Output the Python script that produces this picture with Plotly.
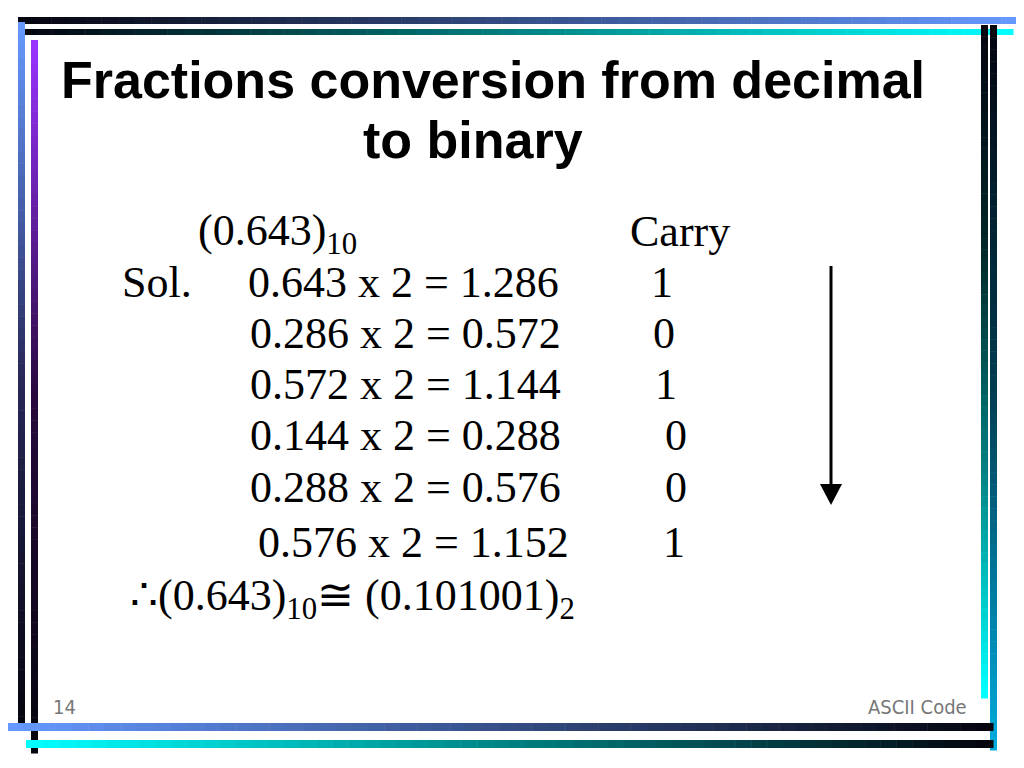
import plotly.graph_objects as go

title_lines = ["Fractions conversion from decimal", "to binary"]
fractions = ["0.643", "0.286", "0.572", "0.144", "0.288", "0.576"]
products = ["1.286", "0.572", "1.144", "0.288", "0.576", "1.152"]
carries = ["1", "0", "1", "0", "0", "1"]
row_y = [284, 335, 386, 437, 489, 544]
row_x = [248, 250, 250, 250, 250, 258]
carry_x = [664, 666, 668, 678, 678, 676]

fig = go.Figure()
shapes = []


def mix(c1, c2, t):
    return "rgb(%d,%d,%d)" % tuple(int(a + (b - a) * t) for a, b in zip(c1, c2))


def grad_bar(x0, x1, y0, y1, stops, horizontal=True, n=60):
    # approximate a gradient with thin slices
    for i in range(n):
        t = i / (n - 1)
        seg = min(int(t * (len(stops) - 1)), len(stops) - 2)
        lt = t * (len(stops) - 1) - seg
        col = mix(stops[seg], stops[seg + 1], lt)
        if horizontal:
            a = x0 + (x1 - x0) * i / n
            b = x0 + (x1 - x0) * (i + 1) / n + 0.5
            shapes.append(dict(type="rect", x0=a, x1=b, y0=y0, y1=y1, fillcolor=col, line_width=0))
        else:
            a = y0 + (y1 - y0) * i / n
            b = y0 + (y1 - y0) * (i + 1) / n + 0.5
            shapes.append(dict(type="rect", x0=x0, x1=x1, y0=a, y1=b, fillcolor=col, line_width=0))


BLACK = (5, 5, 15)
BLUE = (102, 153, 255)
CYAN = (0, 255, 255)
TEAL = (0, 130, 130)
PURPLE = (153, 51, 255)

grad_bar(20, 1020, 19, 26, [BLACK, BLUE])
grad_bar(20, 1015, 31, 37, [BLACK, TEAL, CYAN])
grad_bar(20, 27, 24, 730, [BLUE, (40, 40, 90), BLACK], horizontal=False)
grad_bar(33, 40, 42, 755, [PURPLE, (40, 10, 60), BLACK], horizontal=False)
grad_bar(983, 990, 27, 700, [BLACK, (0, 40, 40), TEAL, CYAN], horizontal=False)
grad_bar(992, 999, 27, 752, [BLACK, (0, 60, 80), (0, 170, 220)], horizontal=False)
grad_bar(8, 995, 725, 733, [BLUE, BLACK])
grad_bar(28, 995, 742, 750, [CYAN, TEAL, BLACK])

# arrow
shapes.append(dict(type="line", x0=833, x1=833, y0=268, y1=488, line=dict(color="black", width=3)))
shapes.append(dict(type="path", path="M 822 486 L 844 486 L 833 507 Z", fillcolor="black", line_width=0))

ann = []
TF = dict(family="Liberation Sans", size=52, color="black")
ann.append(dict(x=495, y=82, text="<b>%s</b>" % title_lines[0], font=TF, xanchor="center"))
ann.append(dict(x=475, y=142, text="<b>%s</b>" % title_lines[1], font=TF, xanchor="center"))

SF = dict(family="Liberation Serif", size=44, color="black")
ann.append(dict(x=198, y=235, text="(0.643)<sub>10</sub>", font=SF, xanchor="left"))
ann.append(dict(x=630, y=233, text="Carry", font=SF, xanchor="left"))
ann.append(dict(x=122, y=284, text="Sol.", font=SF, xanchor="left"))
for f, p, c, y, x, cx in zip(fractions, products, carries, row_y, row_x, carry_x):
    ann.append(dict(x=x, y=y, text="%s x 2 = %s" % (f, p), font=SF, xanchor="left"))
    ann.append(dict(x=cx, y=y, text=c, font=SF, xanchor="center"))
ann.append(dict(x=130, y=600, text="∴(0.643)<sub>10</sub>≅ (0.101001)<sub>2</sub>", font=SF, xanchor="left"))

FF = dict(family="DejaVu Sans Condensed", size=20, color="#777777")
ann.append(dict(x=53, y=709, text="14", font=FF, xanchor="left"))
ann.append(dict(x=971, y=709, text="ASCII Code", font=FF, xanchor="right"))

for a in ann:
    a.update(xref="x", yref="y", showarrow=False, yanchor="middle")

fig.update_layout(
    width=1024, height=768,
    margin=dict(l=0, r=0, t=0, b=0),
    paper_bgcolor="white", plot_bgcolor="white",
    xaxis=dict(range=[10, 1034], visible=False, fixedrange=True),
    yaxis=dict(range=[778, 10], visible=False, fixedrange=True),
    shapes=shapes, annotations=ann, showlegend=False,
)

fig.write_html("out.html")
